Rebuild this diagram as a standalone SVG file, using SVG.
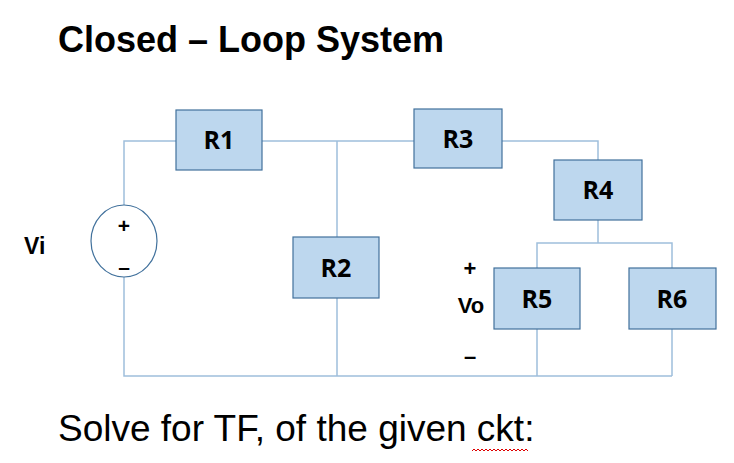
<svg xmlns="http://www.w3.org/2000/svg" width="734" height="463" viewBox="0 0 734 463">
<style>
.w{stroke:#9fbfdc;stroke-width:1.5;fill:none}
.b{fill:#bdd7ee;stroke:#41719c;stroke-width:1.2}
.t{font-family:"Liberation Sans",Arial,sans-serif;font-weight:bold;fill:#000}
.n{font-family:"Open Sans","Liberation Sans",sans-serif;font-weight:bold;font-size:25px;text-anchor:middle;fill:#000}
</style>
<rect width="734" height="463" fill="#fff"/>
<text class="t" x="58" y="52" font-size="36">Closed – Loop System</text>
<g id="connectors">
<path class="w" d="M124,205 V141 H176 M262,141 H414 M337,141 V237 M337,298 V376 M502,141 H598 V160 M598,220 V243 M537,268 V243 H672 V268 M537,329 V376 M672,329 V376 M124,277 V376 H672"/>
</g>
<g id="Vi">
<ellipse cx="124" cy="241" rx="33" ry="36" fill="#fff" stroke="#41719c" stroke-width="1.2"/>
<text class="t" x="124" y="233" font-size="21" text-anchor="middle">+</text>
<text class="t" x="124" y="274" font-size="21" text-anchor="middle">–</text>
<text class="t" x="24" y="254" font-size="23">Vi</text>
</g>
<g id="R1"><rect class="b" x="176" y="110" width="86" height="60"/><text class="n" x="219" y="149">R1</text></g>
<g id="R3"><rect class="b" x="414" y="109" width="88" height="59"/><text class="n" x="458" y="148">R3</text></g>
<g id="R4"><rect class="b" x="554" y="160" width="88" height="60"/><text class="n" x="598" y="199">R4</text></g>
<g id="R2"><rect class="b" x="293" y="237" width="86" height="61"/><text class="n" x="336" y="277">R2</text></g>
<g id="R5"><rect class="b" x="494" y="268" width="86" height="61"/><text class="n" x="537" y="308">R5</text></g>
<g id="R6"><rect class="b" x="629" y="268" width="87" height="61"/><text class="n" x="672" y="308">R6</text></g>
<g id="Vo">
<text class="t" x="470" y="276" font-size="22" text-anchor="middle">+</text>
<text class="t" x="471" y="313" font-size="22" text-anchor="middle">Vo</text>
<text class="t" x="470" y="364" font-size="22" text-anchor="middle">–</text>
</g>
<text x="58" y="441" font-family="Liberation Sans,Arial,sans-serif" font-size="37">Solve for TF, of the given ckt:</text>
<path d="M472,451 l2,-2 l2,2 l2,-2 l2,2 l2,-2 l2,2 l2,-2 l2,2 l2,-2 l2,2 l2,-2 l2,2 l2,-2 l2,2 l2,-2 l2,2 l2,-2 l2,2 l2,-2 l2,2 l2,-2 l2,2 l2,-2 l2,2 l2,-2 l2,2 l2,-2 l2,2" fill="none" stroke="#d00" stroke-width="1"/>
</svg>
